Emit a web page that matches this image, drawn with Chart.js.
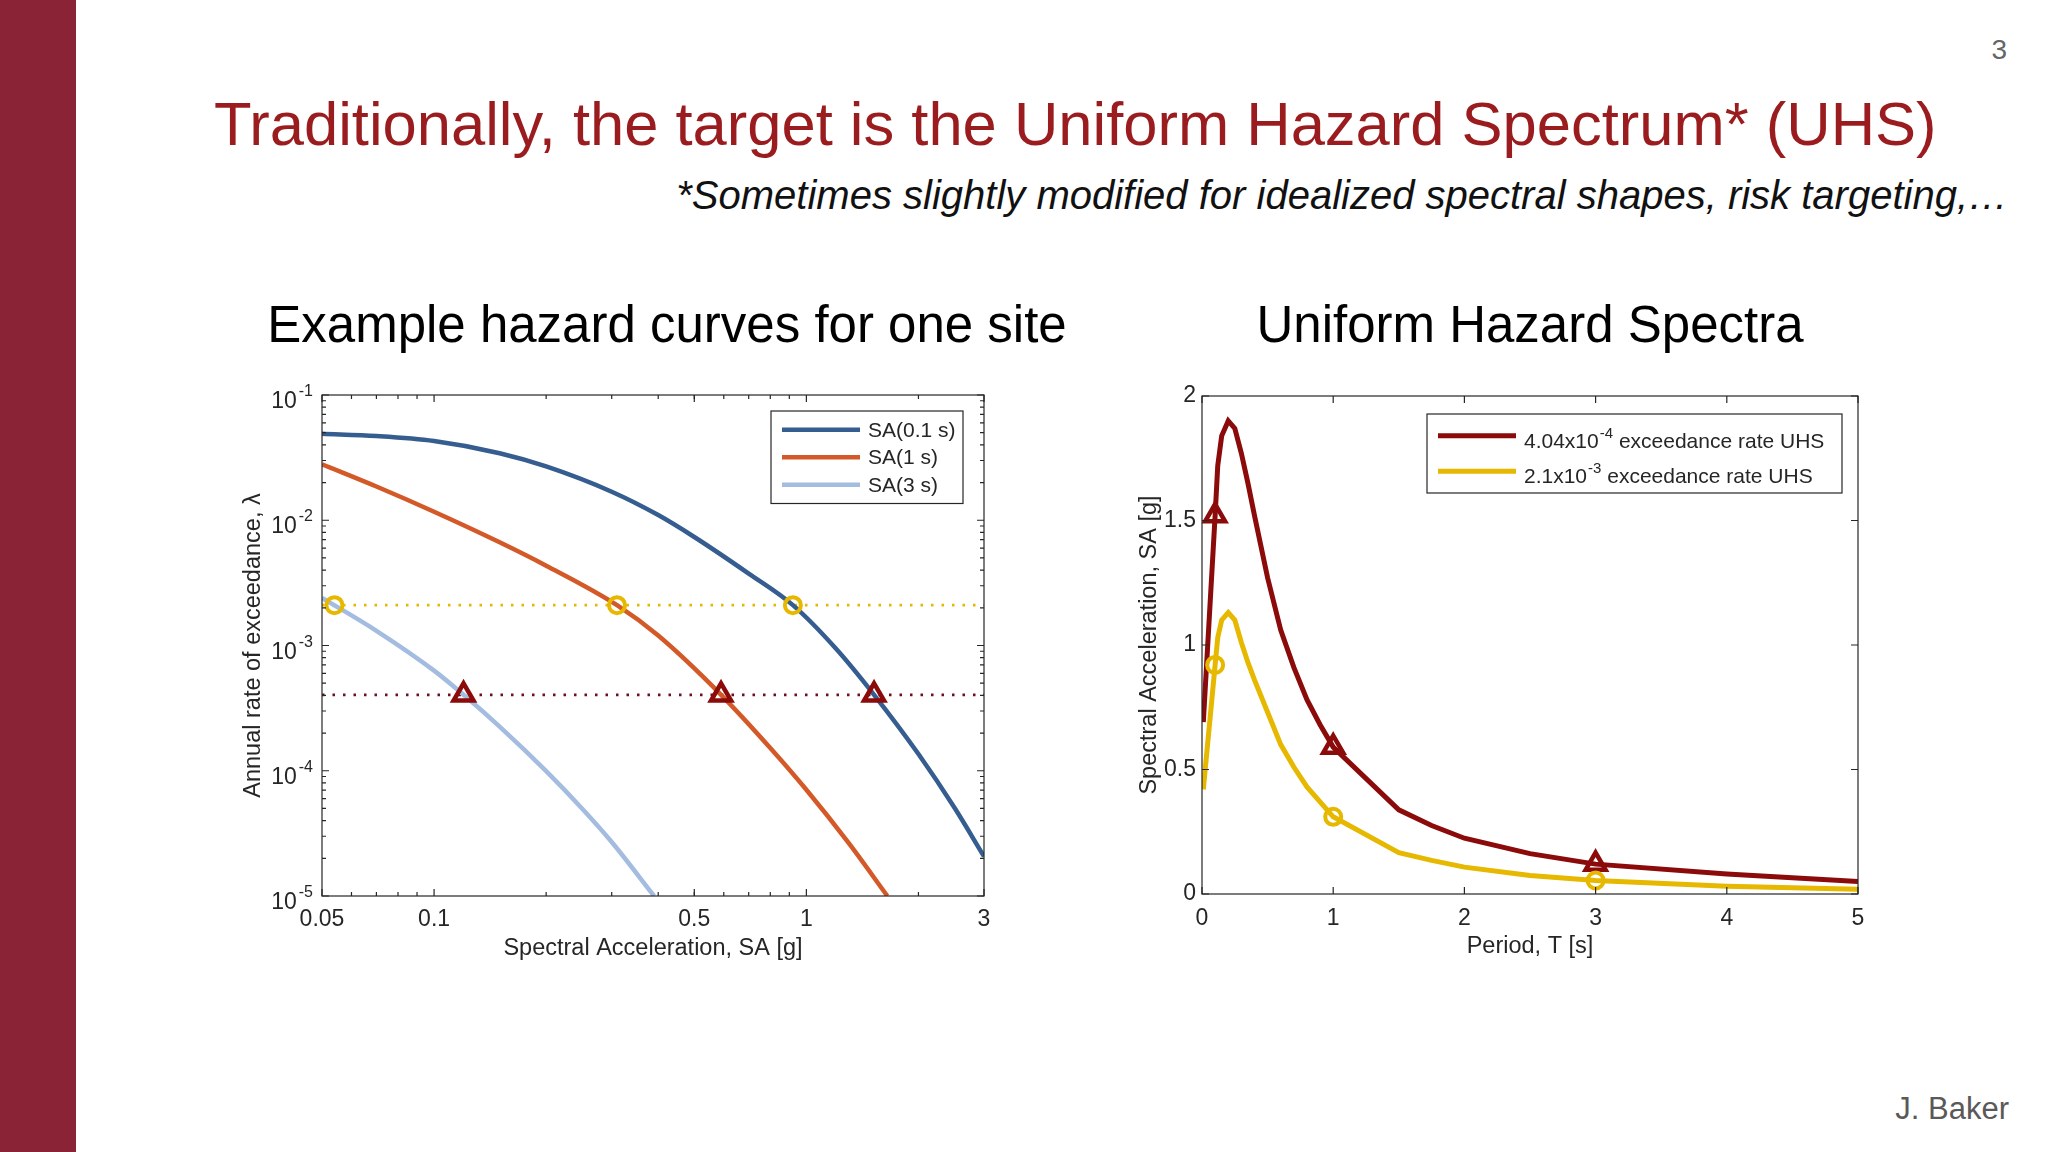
<!DOCTYPE html>
<html>
<head>
<meta charset="utf-8">
<title>Uniform Hazard Spectrum</title>
<script src="https://cdn.jsdelivr.net/npm/chart.js@4.4.1/dist/chart.umd.min.js"></script>
<style>
  html, body { margin: 0; padding: 0; }
  body { width: 2048px; height: 1152px; position: relative; overflow: hidden; background: #fff;
         font-family: "Liberation Sans", Arial, sans-serif; }
  .abs { position: absolute; white-space: nowrap; line-height: 1; }
  #band { left: 0; top: 0; width: 76px; height: 1152px; background: #8b2337; }
  #title { left: 214px; top: 93px; font-size: 61.5px; color: #9b1c1f; }
  #note { right: 40px; top: 175px; font-size: 40px; font-style: italic; color: #111; }
  .ctitle { width: 1000px; text-align: center; top: 299px; font-size: 51px; color: #000; }
  #page { right: 41px; top: 36px; font-size: 28px; color: #666; }
  #author { right: 39px; top: 1093px; font-size: 31px; color: #595959; }
  canvas { position: absolute; }
</style>
</head>
<body>
<div id="band" class="abs"></div>
<div id="page" class="abs">3</div>
<div id="title" class="abs">Traditionally, the target is the Uniform Hazard Spectrum* (UHS)</div>
<div id="note" class="abs">*Sometimes slightly modified for idealized spectral shapes, risk targeting,…</div>
<div class="abs ctitle" style="left:167px">Example hazard curves for one site</div>
<div class="abs ctitle" style="left:1030px">Uniform Hazard Spectra</div>
<canvas id="hazard" width="775" height="607" style="left:235px;top:370px"></canvas>
<canvas id="uhs" width="754" height="605" style="left:1131px;top:370px"></canvas>
<div id="author" class="abs">J. Baker</div>

<script>
// --- hazard curves (SA [g] vs annual rate of exceedance) ---
const sa01 = [0.05, 0.07, 0.1, 0.15, 0.2, 0.3, 0.4, 0.5, 0.7, 0.92, 1.2, 1.52, 2.0, 2.5, 3.0];
const rate01 = [0.049, 0.047, 0.0429, 0.0343, 0.0269, 0.0169, 0.011, 0.00735, 0.00375, 0.0021, 0.000946, 0.000404, 0.000136, 0.0000506, 0.0000207];
const sa1 = [0.05, 0.07, 0.1, 0.15, 0.2, 0.31, 0.4, 0.59, 0.8, 1.0, 1.3, 1.65];
const rate1 = [0.028, 0.0186, 0.0117, 0.00667, 0.00434, 0.0021, 0.0012, 0.000404, 0.000152, 0.0000705, 0.0000264, 0.00001];
const sa3 = [0.05, 0.07, 0.1, 0.12, 0.15, 0.2, 0.25, 0.3, 0.39];
const rate3 = [0.0024, 0.00131, 0.00063, 0.000404, 0.000225, 0.0000993, 0.0000498, 0.000027, 0.00001];

// target rates and the SA values where the curves cross them (T = 0.1, 1, 3 s)
const rateLow = 0.000404;
const rateHigh = 0.0021;
const markT = [0.1, 1, 3];
const markSaLow = [1.52, 0.59, 0.12];
const markSaHigh = [0.92, 0.31, 0.054];

// --- uniform hazard spectra ---
const periods = [0.01, 0.1, 0.12, 0.15, 0.2, 0.25, 0.3, 0.35, 0.4, 0.5, 0.6, 0.7, 0.8, 0.9, 1.0, 1.5, 1.75, 2, 2.5, 3, 4, 5];
const uhsLow = [0.69, 1.52, 1.72, 1.84, 1.90, 1.87, 1.77, 1.65, 1.52, 1.27, 1.06, 0.91, 0.78, 0.68, 0.59, 0.338, 0.275, 0.224, 0.162, 0.12, 0.08, 0.05];
const uhsHigh = [0.42, 0.92, 1.03, 1.10, 1.13, 1.10, 1.01, 0.93, 0.86, 0.73, 0.60, 0.51, 0.43, 0.37, 0.31, 0.166, 0.135, 0.108, 0.074, 0.054, 0.031, 0.019];

// tick labels
const saTicks = [0.05, 0.1, 0.5, 1, 3];
const rateTicks = [1e-5, 1e-4, 1e-3, 1e-2, 1e-1];
const periodTicks = [0, 1, 2, 3, 4, 5];
const uhsTicks = [0, 0.5, 1, 1.5, 2];

const hazardLegend = ['SA(0.1 s)', 'SA(1 s)', 'SA(3 s)'];
const uhsLegend = [['4.04x10', '-4', ' exceedance rate UHS'], ['2.1x10', '-3', ' exceedance rate UHS']];

const C = {
  blue: '#365d90', orange: '#d35a28', light: '#a3bcdf',
  red: '#8b0a0a', gold: '#e6b800', ink: '#262626'
};
const FONT = '"Liberation Sans", Arial, sans-serif';
const TICK = 23, LABEL = 23.5;
Chart.defaults.font.family = FONT;
Chart.defaults.color = C.ink;

const pts = (xs, ys) => xs.map((x, i) => ({ x, y: ys[i] }));

// minor ticks for a log axis: 2..9 x 10^k inside the range
function minorLog(min, max) {
  const out = [];
  for (let e = Math.floor(Math.log10(min)); e <= Math.ceil(Math.log10(max)); e++) {
    for (let m = 2; m <= 9; m++) {
      const v = m * Math.pow(10, e);
      if (v > min * 1.001 && v < max * 0.999) out.push(v);
    }
  }
  return out;
}

// MATLAB-like box: inward ticks on all four sides, optional 10^n labels, boxed legend
const axesBox = {
  id: 'axesBox',
  afterDraw(chart, args, o) {
    const { ctx, chartArea: a, scales } = chart;
    ctx.save();
    ctx.strokeStyle = C.ink;
    ctx.lineWidth = 1.2;
    ctx.strokeRect(a.left, a.top, a.right - a.left, a.bottom - a.top);

    const tick = (s, v, len) => {
      const p = s.getPixelForValue(v);
      ctx.beginPath();
      if (s.isHorizontal()) {
        ctx.moveTo(p, a.bottom); ctx.lineTo(p, a.bottom - len);
        ctx.moveTo(p, a.top); ctx.lineTo(p, a.top + len);
      } else {
        ctx.moveTo(a.left, p); ctx.lineTo(a.left + len, p);
        ctx.moveTo(a.right, p); ctx.lineTo(a.right - len, p);
      }
      ctx.stroke();
    };
    [scales.x, scales.y].forEach(s => {
      s.ticks.forEach(t => tick(s, t.value, 7));
      if (s.type === 'logarithmic') minorLog(s.min, s.max).forEach(v => tick(s, v, 4));
    });

    if (o.expLabels) {
      const ys = scales.y;
      ctx.fillStyle = C.ink;
      ctx.textAlign = 'right';
      ctx.textBaseline = 'alphabetic';
      ys.ticks.forEach(t => {
        const p = ys.getPixelForValue(t.value);
        const e = String(Math.round(Math.log10(t.value)));
        ctx.font = '16px ' + FONT;
        const w = ctx.measureText(e).width;
        ctx.fillText(e, a.left - 9, p + 1);
        ctx.font = '23px ' + FONT;
        ctx.fillText('10', a.left - 11 - w, p + 13);
      });
    }

    const L = o.legend;
    if (L) {
      const x0 = a.right - L.right - L.width;
      const y0 = a.top + L.top;
      const h = L.pad * 2 + L.rowH * L.items.length;
      ctx.fillStyle = '#fff';
      ctx.fillRect(x0, y0, L.width, h);
      ctx.strokeStyle = C.ink;
      ctx.lineWidth = 1.2;
      ctx.strokeRect(x0, y0, L.width, h);
      L.items.forEach((it, i) => {
        const ds = chart.data.datasets[it.ds];
        const y = y0 + L.pad + L.rowH * (i + 0.5);
        ctx.strokeStyle = ds.borderColor;
        ctx.lineWidth = ds.borderWidth;
        ctx.beginPath();
        ctx.moveTo(x0 + 11, y);
        ctx.lineTo(x0 + 89, y);
        ctx.stroke();
        ctx.fillStyle = C.ink;
        ctx.textAlign = 'left';
        ctx.textBaseline = 'alphabetic';
        let x = x0 + 97;
        const parts = Array.isArray(it.text) ? it.text : [it.text];
        ctx.font = '21px ' + FONT;
        ctx.fillText(parts[0], x, y + L.base);
        if (parts.length > 1) {
          x += ctx.measureText(parts[0]).width + 1;
          ctx.font = '15px ' + FONT;
          ctx.fillText(parts[1], x, y + L.base - 10);
          x += ctx.measureText(parts[1]).width;
          ctx.font = '21px ' + FONT;
          ctx.fillText(parts[2], x, y + L.base);
        }
      });
    }
    ctx.restore();
  }
};

const curve = (data, color, width, smooth) => ({
  data, borderColor: color, backgroundColor: color, borderWidth: width,
  pointRadius: 0, cubicInterpolationMode: smooth ? 'monotone' : 'default', tension: 0
});
const marks = (data, color, style, r, bw) => ({
  data, showLine: false, pointStyle: style, pointRadius: r, pointHoverRadius: r,
  pointBorderWidth: bw, pointBorderColor: color, pointBackgroundColor: 'rgba(0,0,0,0)',
  borderColor: color
});
const dotted = (rate, color) => ({
  data: [{ x: saTicks[0], y: rate }, { x: saTicks[saTicks.length - 1], y: rate }],
  borderColor: color, borderWidth: 2.8, borderDash: [2.5, 8], pointRadius: 0
});
const axisTitle = text => ({ display: true, text, color: C.ink, font: { size: LABEL }, padding: { top: 4, bottom: 4 } });
const setTicks = arr => s => { s.ticks = arr.map(v => ({ value: v })); };
const noGrid = { display: false, drawTicks: false };

// === Hazard curves ===
const hazardSets = [
  marks(markSaHigh.map(x => ({ x, y: rateHigh })), C.gold, 'circle', 8, 4),
  marks(markSaLow.map(x => ({ x, y: rateLow })), C.red, 'triangle', 11.5, 4.5),
  curve(pts(sa01, rate01), C.blue, 4.5, true),
  curve(pts(sa1, rate1), C.orange, 4.5, true),
  curve(pts(sa3, rate3), C.light, 4.5, true),
  dotted(rateHigh, C.gold),
  dotted(rateLow, '#6e0f1c')
];

new Chart(document.getElementById('hazard'), {
  type: 'line',
  data: { datasets: hazardSets },
  options: {
    responsive: false,
    animation: false,
    layout: { padding: { left: 0, top: 25, right: 26, bottom: 10 } },
    plugins: {
      legend: { display: false },
      tooltip: { enabled: false },
      axesBox: {
        expLabels: true,
        legend: {
          right: 21, top: 16, width: 192, pad: 5, rowH: 27.5, base: 7,
          items: hazardLegend.map((text, i) => ({ text, ds: i + 2 }))
        }
      }
    },
    scales: {
      x: {
        type: 'logarithmic', min: 0.05, max: 3,
        grid: noGrid, border: { display: false },
        afterBuildTicks: setTicks(saTicks),
        ticks: { callback: v => String(v), font: { size: TICK }, color: C.ink, padding: 10, autoSkip: false, maxRotation: 0 },
        title: axisTitle('Spectral Acceleration, SA [g]'),
        afterFit: s => { s.height = 71; }
      },
      y: {
        type: 'logarithmic', min: 1e-5, max: 1e-1,
        grid: noGrid, border: { display: false },
        afterBuildTicks: setTicks(rateTicks),
        ticks: { display: false },
        title: axisTitle('Annual rate of exceedance, λ'),
        afterFit: s => { s.width = 87; }
      }
    }
  },
  plugins: [axesBox]
});

// === Uniform hazard spectra ===
const uhsSets = [
  marks(pts(markT, markSaHigh), C.gold, 'circle', 8, 4),
  marks(pts(markT, markSaLow), C.red, 'triangle', 11.5, 4.5),
  curve(pts(periods, uhsLow), C.red, 5, false),
  curve(pts(periods, uhsHigh), C.gold, 5, false)
];

new Chart(document.getElementById('uhs'), {
  type: 'line',
  data: { datasets: uhsSets },
  options: {
    responsive: false,
    animation: false,
    layout: { padding: { left: 0, top: 26, right: 27, bottom: 10 } },
    plugins: {
      legend: { display: false },
      tooltip: { enabled: false },
      axesBox: {
        legend: {
          right: 16, top: 18, width: 415, pad: 4, rowH: 35.5, base: 12,
          items: uhsLegend.map((text, i) => ({ text, ds: i + 2 }))
        }
      }
    },
    scales: {
      x: {
        type: 'linear', min: 0, max: 5,
        grid: noGrid, border: { display: false },
        afterBuildTicks: setTicks(periodTicks),
        ticks: { callback: v => String(v), font: { size: TICK }, color: C.ink, padding: 11, autoSkip: false, maxRotation: 0 },
        title: axisTitle('Period, T [s]'),
        afterFit: s => { s.height = 71; }
      },
      y: {
        type: 'linear', min: 0, max: 2,
        grid: noGrid, border: { display: false },
        afterBuildTicks: setTicks(uhsTicks),
        ticks: { callback: v => String(v), font: { size: TICK }, color: C.ink, padding: 6 },
        title: axisTitle('Spectral Acceleration, SA [g]'),
        afterFit: s => { s.width = 71; }
      }
    }
  },
  plugins: [axesBox]
});
</script>
</body>
</html>
